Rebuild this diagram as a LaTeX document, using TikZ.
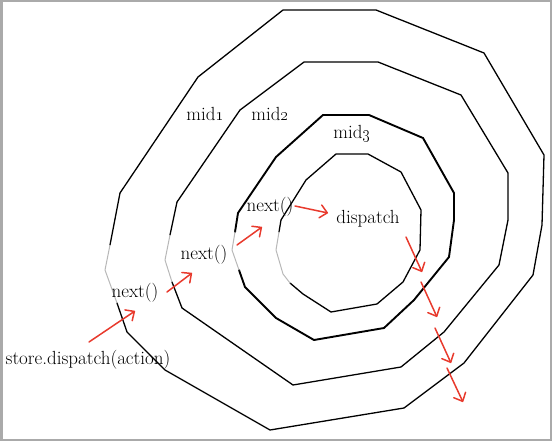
\documentclass[tikz,border=0pt]{standalone}
\usetikzlibrary{arrows.meta}
\definecolor{arrowred}{RGB}{232,58,45}
\definecolor{framegray}{RGB}{170,170,170}
\begin{document}
\begin{tikzpicture}[x=1pt,y=-1pt,
  ring/.style={line width=1.3pt, line join=round, line cap=round},
  thickring/.style={line width=1.9pt, line join=round, line cap=round},
  fade/.style={line width=1.0pt, black!28, line join=round, line cap=round},
  lbl/.style={inner sep=0pt, font=\fontsize{19}{22}\selectfont},
  flow/.style={arrowred, line width=1.5pt, line cap=round,
    -{Straight Barb[length=7pt,width=13pt,round]}}]
\useasboundingbox (0,0) rectangle (552,441);
\draw[framegray, line width=2.5pt] (1.25,1.25) rectangle (550.75,439.75);

% ring 1 (outermost)
\draw[ring] (110,245) -- (120,193) -- (198,77) -- (283,10) -- (376,10) -- (484,53)
  -- (544,155) -- (542,225) -- (533,275) -- (464,363) -- (404,408) -- (270,430)
  -- (165,370) -- (127,332) -- (117,303);
\draw[fade] (117,303) -- (105,270) -- (110,245);
% ring 2
\draw[ring] (170,235) -- (177,202) -- (240,110) -- (304,62) -- (378,62) -- (461,95)
  -- (508,173) -- (508,220) -- (499,265) -- (444,332) -- (401,367) -- (293,385)
  -- (182,308) -- (172,282);
\draw[fade] (172,282) -- (165,260) -- (170,235);
% ring 3 (thick)
\draw[thickring] (235,232) -- (238,213) -- (276,157) -- (323,115) -- (369,115) -- (423,138)
  -- (454,193) -- (454,220) -- (449,257) -- (414,300) -- (384,328) -- (314,340)
  -- (276,318) -- (245,287) -- (239,270);
\draw[fade] (239,270) -- (232,250) -- (235,232);
% ring 4 (innermost)
\draw[ring] (279,232) -- (281,220) -- (306,180) -- (336,154) -- (368,154) -- (401,172)
  -- (421,210) -- (420,250) -- (403,282) -- (377,304) -- (331,312) -- (303,294)
  -- (290,283);
\draw[fade] (290,283) -- (283,274) -- (276,250) -- (279,232);

% labels
\node[lbl] (mid1) at (205,114) {mid\oldstylenums{1}};
\node[lbl] (mid2) at (270,114) {mid\oldstylenums{2}};
\node[lbl] (mid3) at (352,134) {mid\oldstylenums{3}};
\node[lbl] (store) at (88,360) {store.dispatch(action)};
\node[lbl] (next1) at (135,293) {next()};
\node[lbl] (next2) at (204,255) {next()};
\node[lbl] (next3) at (270,207) {next()};
\node[lbl] (dispatch) at (368,219) {dispatch};

% arrow end points
\coordinate (a1s) at (89,342);  \coordinate (a1e) at (135,311);
\coordinate (a2s) at (167,292); \coordinate (a2e) at (192,273);
\coordinate (a3s) at (237,245); \coordinate (a3e) at (262,227);
\coordinate (a4s) at (295,206); \coordinate (a4e) at (328,213);
\coordinate (d1s) at (406,237); \coordinate (d1e) at (422,272);
\coordinate (d2s) at (421,282); \coordinate (d2e) at (437,317);
\coordinate (d3s) at (435,328); \coordinate (d3e) at (451,363);
\coordinate (d4s) at (447,368); \coordinate (d4e) at (463,402);

\draw[flow] (a1s) -- (a1e);
\draw[flow] (a2s) -- (a2e);
\draw[flow] (a3s) -- (a3e);
\draw[flow] (a4s) -- (a4e);
\draw[flow] (d1s) -- (d1e);
\draw[flow] (d2s) -- (d2e);
\draw[flow] (d3s) -- (d3e);
\draw[flow] (d4s) -- (d4e);
\end{tikzpicture}
\end{document}
